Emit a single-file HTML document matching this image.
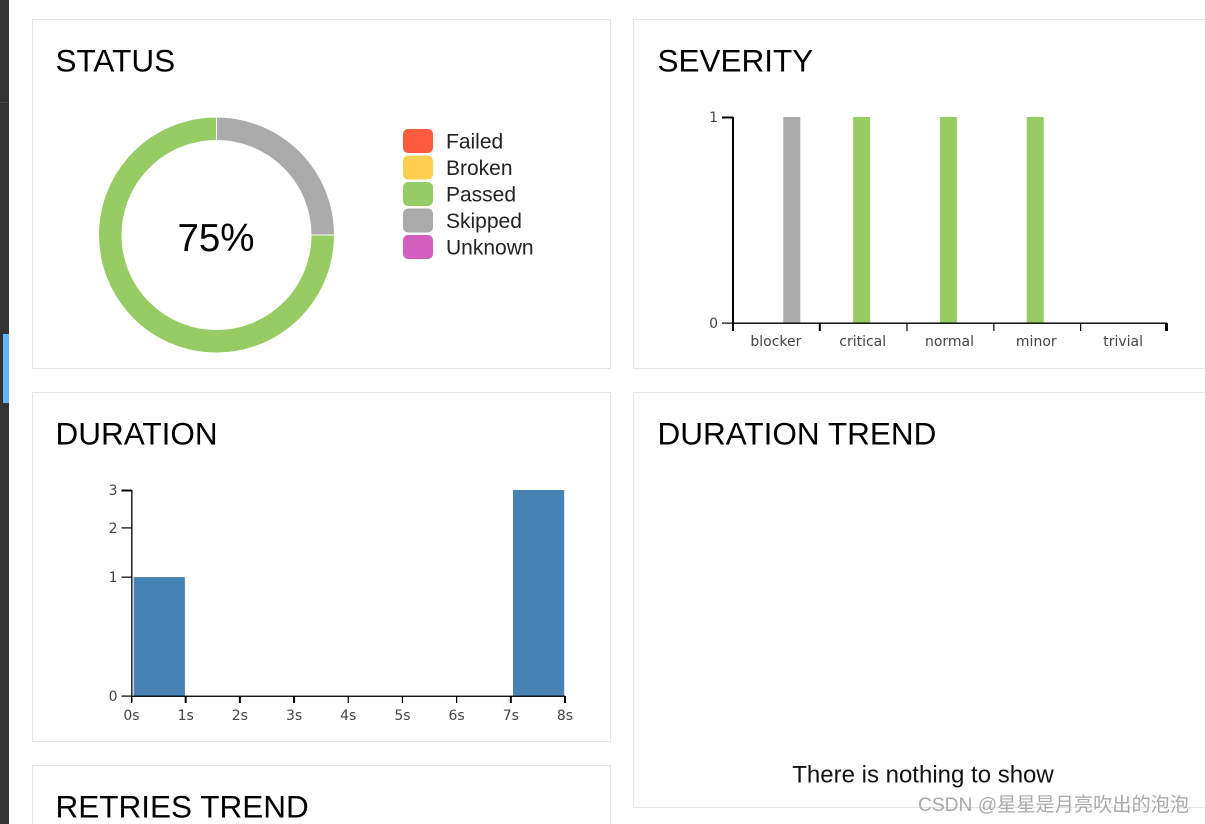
<!DOCTYPE html>
<html lang="en">
<head>
<meta charset="utf-8">
<title>Allure report overview</title>
<style>
html,body{margin:0;padding:0;background:#fff;width:1205px;height:824px;overflow:hidden}
svg{display:block;font-family:"Liberation Sans","Noto Sans CJK SC",sans-serif}
.title{font-size:31.5px;fill:#000}
.tick{font-family:"DejaVu Sans","Liberation Sans",sans-serif;font-size:14px;fill:#444}
.legend{font-size:21px;fill:#222}
</style>
</head>
<body>
<svg id="page" width="1205" height="824" viewBox="0 0 1205 824" xmlns="http://www.w3.org/2000/svg">
  <rect x="0" y="0" width="9" height="824" fill="#333"/>
  <rect x="0" y="102" width="9" height="1" fill="#4a4a4a"/>
  <rect x="3" y="334" width="6" height="69" fill="#64b5f6"/>

  <rect x="32.5" y="19.5" width="578" height="349" fill="#fff" stroke="#e5e5e5"/>
  <path d="M1205 19.5H633.5V368.5H1205" fill="#fff" stroke="#e5e5e5"/>
  <rect x="32.5" y="392.5" width="578" height="349" fill="#fff" stroke="#e5e5e5"/>
  <path d="M1205 392.5H633.5V807.5H1205" fill="#fff" stroke="#e5e5e5"/>
  <path d="M32.5 824V765.5H610.5V824" fill="#fff" stroke="#e5e5e5"/>

  <text class="title" x="55.5" y="71.5">STATUS</text>
  <text class="title" x="657.5" y="71.5">SEVERITY</text>
  <text class="title" x="55.5" y="444.5">DURATION</text>
  <text class="title" x="657.5" y="444.5">DURATION TREND</text>
  <text class="title" x="55.5" y="817.5">RETRIES TREND</text>

  <g id="donut"></g>
  <text x="216" y="251" text-anchor="middle" font-size="38.5" fill="#000">75%</text>
  <g id="legend"></g>
  <g id="severity"></g>
  <g id="duration"></g>

  <text x="923" y="782.5" text-anchor="middle" font-size="24" fill="#111">There is nothing to show</text>
  <text x="918" y="811" font-size="19.2" fill="#a8a8a8" font-family="'Liberation Sans','Noto Sans CJK SC',sans-serif">CSDN @星星是月亮吹出的泡泡</text>
</svg>
<script>
const statusNames = ['Failed', 'Broken', 'Passed', 'Skipped', 'Unknown'];
const statusCounts = [0, 0, 3, 1, 0];
const severityCategories = ['blocker', 'critical', 'normal', 'minor', 'trivial'];
const severityPassed = [0, 1, 1, 1, 0];
const severitySkipped = [1, 0, 0, 0, 0];
const severityTicks = [0, 1];
const durationBinStarts = [0, 1, 2, 3, 4, 5, 6, 7];
const durationCounts = [1, 0, 0, 0, 0, 0, 0, 3];
const durationYTicks = [0, 1, 2, 3];
const durationXTicks = [0, 1, 2, 3, 4, 5, 6, 7, 8];

const NS = 'http://www.w3.org/2000/svg';
const statusColor = {Failed: '#fd5a3e', Broken: '#ffd050', Passed: '#97cc64', Skipped: '#aaaaaa', Unknown: '#d35ebe'};

function make(parent, tag, attrs, text) {
  const el = document.createElementNS(NS, tag);
  for (const k in attrs) el.setAttribute(k, attrs[k]);
  if (text !== undefined) el.textContent = text;
  parent.appendChild(el);
  return el;
}

/* donut */
(function () {
  const g = document.getElementById('donut');
  const cx = 216.5, cy = 235, R = 118, r = 94.5;
  const total = statusCounts.reduce((a, b) => a + b, 0);
  const order = [3, 2, 0, 1, 4];
  let start = 0;
  order.forEach(function (i) {
    if (!statusCounts[i]) return;
    const end = start + statusCounts[i] / total * Math.PI * 2;
    const large = end - start > Math.PI ? 1 : 0;
    const pt = (rad, a) => (cx + rad * Math.sin(a)).toFixed(2) + ' ' + (cy - rad * Math.cos(a)).toFixed(2);
    const d = 'M' + pt(R, start) + 'A' + R + ' ' + R + ' 0 ' + large + ' 1 ' + pt(R, end) +
      'L' + pt(r, end) + 'A' + r + ' ' + r + ' 0 ' + large + ' 0 ' + pt(r, start) + 'Z';
    const slice = make(g, 'path', {d: d, fill: statusColor[statusNames[i]], stroke: '#fff', 'stroke-width': 1});
    
    
    start = end;
  });
})();

/* legend */
(function () {
  const g = document.getElementById('legend');
  statusNames.forEach(function (name, i) {
    const y = 129 + i * 26.5;
    const swatch = make(g, 'rect', {x: 403, y: y, width: 30, height: 24, rx: 5, ry: 5, fill: statusColor[name]});
    
    
    const label = make(g, 'text', {class: 'legend', x: 446, y: y + 19.5}, name);
    
    
  });
})();

/* severity chart */
(function () {
  const g = document.getElementById('severity');
  const x0 = 733, x1 = 1167, y0 = 323, y1 = 117;
  const step = (x1 - x0) / severityCategories.length;
  const xBand = i => x0 + i * step;
  const yScale = v => y0 - (v / 1) * (y0 - y1);
  const barW = 17;
  const drawBar = function (i, v, slot, color, label) {
    if (!v) return;
    const b = make(g, 'rect', {x: xBand(i) + slot * barW - 0.7, y: yScale(v), width: barW, height: y0 - yScale(v), fill: color});
    
    
  };
  severityCategories.forEach(function (c, i) {
    drawBar(i, severityPassed[i], 2, statusColor.Passed, 'passed');
    drawBar(i, severitySkipped[i], 3, statusColor.Skipped, 'skipped');
  });
  const yAxis = make(g, 'rect', {x: x0 - 1, y: y1, width: 2, height: y0 - y1 + 8, fill: '#000'});
  
  
  const xAxis = make(g, 'rect', {x: x0, y: y0 - 0.5, width: x1 - x0, height: 1.4, fill: '#000'});
  
  
  severityTicks.forEach(function (v) {
    const t = make(g, 'rect', {x: x0 - 11, y: yScale(v) - 0.5, width: 11, height: v ? 2 : 1.2, fill: '#000'});
    
    
    const l = make(g, 'text', {class: 'tick', x: x0 - 15, y: yScale(v) + 5, 'text-anchor': 'end'}, String(v));
    
    
  });
  for (let i = 1; i <= severityCategories.length; i++) {
    const last = i === severityCategories.length;
    const w = i === 1 ? 2 : (last ? 3 : 1.2);
    const t = make(g, 'rect', {x: xBand(i) - w + (last ? 1 : 1), y: y0, width: w, height: 8, fill: '#000'});
    
    
  }
  severityCategories.forEach(function (c, i) {
    const l = make(g, 'text', {class: 'tick', x: xBand(i) + step / 2 - 0.5, y: 346, 'text-anchor': 'middle'}, c);
    
    
  });
})();

/* duration chart */
(function () {
  const g = document.getElementById('duration');
  const x0 = 131.5, x1 = 565, y0 = 696, y1 = 490;
  const xScale = v => x0 + v / 8 * (x1 - x0);
  const yScale = v => y0 - Math.sqrt(v / 3) * (y0 - y1);
  durationBinStarts.forEach(function (s, i) {
    const v = durationCounts[i];
    if (!v) return;
    const b = make(g, 'rect', {x: xScale(s) + 2.2, y: yScale(v), width: xScale(s + 1) - xScale(s) - 3, height: y0 - yScale(v), fill: '#4682b4'});
    
    
  });
  const yAxis = make(g, 'rect', {x: x0 - 0.3, y: y1, width: 1.3, height: y0 - y1 + 6, fill: '#000'});
  
  
  const xAxis = make(g, 'rect', {x: x0, y: y0 - 0.4, width: x1 - x0, height: 1.3, fill: '#000'});
  
  
  durationYTicks.forEach(function (v) {
    const top = v === durationYTicks[durationYTicks.length - 1];
    const t = make(g, 'rect', {x: x0 - 10, y: yScale(v) - 0.5, width: 10, height: top ? 2 : 1.2, fill: '#000'});
    
    
    const l = make(g, 'text', {class: 'tick', x: x0 - 14, y: yScale(v) + 5, 'text-anchor': 'end'}, String(v));
    
    
  });
  durationXTicks.forEach(function (v) {
    const w = [1, 2, 3, 7, 8].includes(v) ? 2 : 1.2;
    const t = make(g, 'rect', {x: xScale(v) - w / 2, y: y0, width: w, height: 7, fill: '#000'});
    
    
    const l = make(g, 'text', {class: 'tick', x: xScale(v), y: 720, 'text-anchor': 'middle'}, v + 's');
    
    
  });
})();
</script>
</body>
</html>
